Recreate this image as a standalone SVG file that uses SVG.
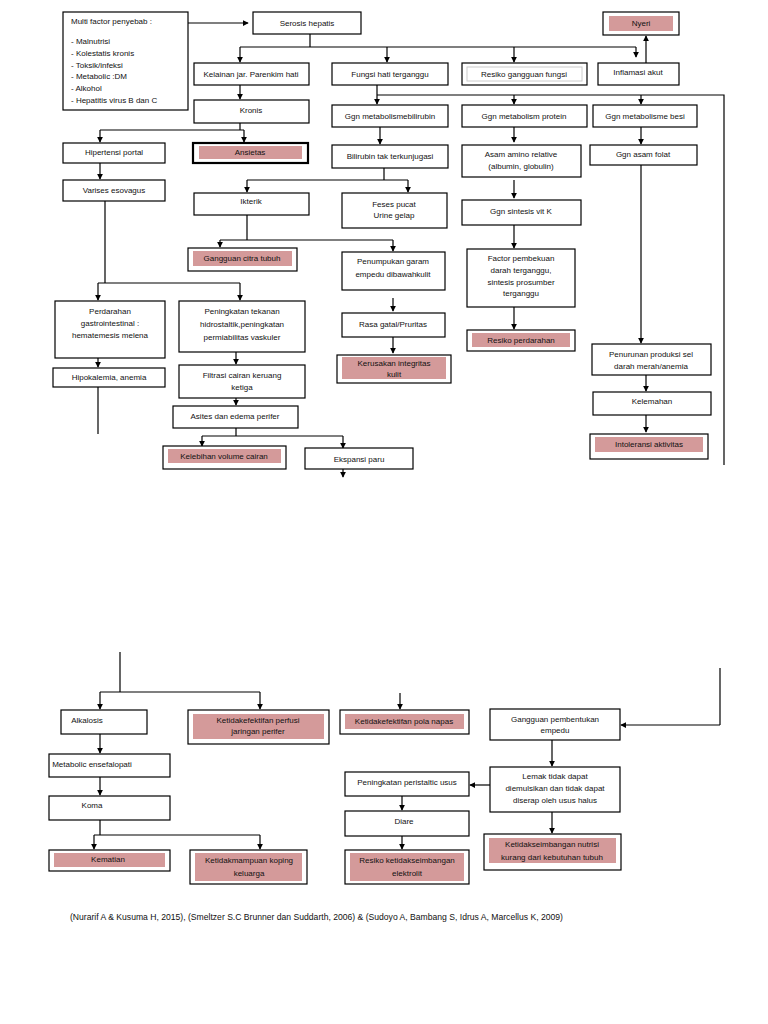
<svg xmlns="http://www.w3.org/2000/svg" width="768" height="1024" viewBox="0 0 768 1024">
<defs>
<marker id="a" viewBox="0 0 8 8" refX="7" refY="4" markerWidth="5" markerHeight="5" orient="auto"><path d="M0,0L8,4L0,8z" fill="#000"/></marker>
</defs>
<style>
rect.b{fill:#fff;stroke:#000;stroke-width:1.2}
rect.p{fill:#d49a9a}
text{font-family:"Liberation Sans",Arial,sans-serif;font-size:8px;fill:#111;text-anchor:middle}
.l{text-anchor:start}
#c path{fill:none;stroke:#000;stroke-width:1.2}
#c path.m{marker-end:url(#a)}
</style>
<rect width="768" height="1024" fill="#fff"/>
<g id="c">
<path class="m" d="M188,23H248"/>
<path d="M310,34V47M240,47H636"/>
<path class="m" d="M240,47V62"/><path class="m" d="M387,47V62"/><path class="m" d="M514,47V62"/><path class="m" d="M636,47V57"/>
<path class="m" d="M646,63V36"/>
<path class="m" d="M240,85V99"/>
<path d="M240,123V130M100,130H244"/>
<path class="m" d="M100,130V142"/><path class="m" d="M244,130V142"/>
<path class="m" d="M100,163V179"/>
<path d="M105,201V283M98,283H240"/>
<path class="m" d="M98,283V300"/><path class="m" d="M240,283V300"/>
<path d="M377,85V95M377,95H724V465"/>
<path class="m" d="M377,95V104"/><path class="m" d="M514,95V104"/><path class="m" d="M641,95V104"/>
<path class="m" d="M380,127V144"/>
<path d="M384,168V180M247,180H408"/>
<path class="m" d="M247,180V192"/><path class="m" d="M408,180V192"/>
<path d="M247,215V240M220,240H393"/>
<path class="m" d="M220,240V247"/><path class="m" d="M393,240V251"/>
<path class="m" d="M393,298V311"/>
<path class="m" d="M393,337V353"/>
<path class="m" d="M98,358V367"/>
<path d="M98,387V434"/>
<path class="m" d="M236,352V364"/>
<path class="m" d="M236,398V405"/>
<path d="M236,428V436M202,436H343"/>
<path class="m" d="M202,436V446"/><path class="m" d="M343,436V448"/>
<path class="m" d="M343,469V477"/>
<path class="m" d="M514,127V142"/>
<path class="m" d="M514,180V198"/>
<path class="m" d="M514,225V248"/>
<path class="m" d="M514,307V329"/>
<path class="m" d="M641,127V144"/>
<path class="m" d="M641,165V343"/>
<path class="m" d="M646,375V391"/>
<path class="m" d="M646,415V432"/>
<path d="M120,652V692M100,692H260"/>
<path class="m" d="M100,692V709"/><path class="m" d="M260,692V709"/>
<path class="m" d="M100,734V753"/>
<path class="m" d="M100,777V795"/>
<path d="M100,820V835M94,835H260"/>
<path class="m" d="M94,835V849"/><path class="m" d="M260,835V849"/>
<path class="m" d="M400,693V709"/>
<path d="M720,668V725"/><path class="m" d="M720,725H621"/>
<path class="m" d="M552,740V766"/>
<path class="m" d="M490,785H470"/>
<path class="m" d="M402,796V810"/>
<path class="m" d="M402,836V849"/>
<path class="m" d="M552,812V833"/>
</g>
<g id="multi"><rect class="b" x="63" y="12" width="125" height="98"/>
<text class="l" x="71" y="24">Multi factor penyebab :</text>
<text class="l" x="71" y="44">-   Malnutrisi</text><text class="l" x="71" y="56">-   Kolestatis kronis</text><text class="l" x="71" y="68">-   Toksik/infeksi</text><text class="l" x="71" y="79">-   Metabolic :DM</text><text class="l" x="71" y="91">-   Alkohol</text><text class="l" x="71" y="103">-   Hepatitis virus B dan C</text></g>
<g id="serosis"><rect class="b" x="253" y="12" width="108" height="22"/><text x="307" y="26">Serosis hepatis</text></g>
<g id="nyeri"><rect class="b" x="603" y="12" width="76" height="23"/><rect class="p" x="609" y="16" width="64" height="15"/><text x="641" y="26">Nyeri</text></g>
<g id="kelainan"><rect class="b" x="194" y="63" width="115" height="22"/><text x="251" y="77">Kelainan jar. Parenkim hati</text></g>
<g id="fungsi"><rect class="b" x="332" y="63" width="116" height="22"/><text x="390" y="77">Fungsi hati terganggu</text></g>
<g id="resiko"><rect class="b" x="462" y="63" width="125" height="22"/><rect x="467" y="67" width="115" height="14" fill="none" stroke="#ccc"/><text x="524" y="77">Resiko gangguan fungsi</text></g>
<g id="inflamasi"><rect class="b" x="598" y="63" width="81" height="22"/><text x="638" y="75">Inflamasi akut</text></g>
<g id="kronis"><rect class="b" x="194" y="100" width="115" height="23"/><text x="251" y="113">Kronis</text></g>
<g id="hipertensi"><rect class="b" x="63" y="143" width="102" height="20"/><text x="114" y="155">Hipertensi portal</text></g>
<g id="ansietas"><rect class="b" x="193" y="143" width="115" height="20" style="stroke-width:2.2"/><rect class="p" x="199" y="146" width="103" height="13"/><text x="250" y="155">Ansietas</text></g>
<g id="varises"><rect class="b" x="63" y="180" width="102" height="21"/><text x="114" y="193">Varises  esovagus</text></g>
<g id="bilirubin"><rect class="b" x="332" y="105" width="116" height="22"/><text x="390" y="119">Ggn metabolismebilirubin</text></g>
<g id="protein"><rect class="b" x="462" y="105" width="125" height="22"/><text x="524" y="119">Ggn metabolism protein</text></g>
<g id="besi"><rect class="b" x="593" y="105" width="104" height="22"/><text x="645" y="119">Ggn metabolisme besi</text></g>
<g id="taktkj"><rect class="b" x="332" y="145" width="116" height="23"/><text x="390" y="159">Bilirubin tak terkunjugasi</text></g>
<g id="asam"><rect class="b" x="462" y="145" width="119" height="32"/><text x="521" y="157">Asam amino relative</text><text x="521" y="169">(albumin, globulin)</text></g>
<g id="folat"><rect class="b" x="590" y="145" width="107" height="20"/><text x="643" y="157">Ggn asam folat</text></g>
<g id="ikterik"><rect class="b" x="194" y="193" width="115" height="22"/><text x="251" y="204">Ikterik</text></g>
<g id="feses"><rect class="b" x="342" y="193" width="105" height="35"/><text x="394" y="207">Feses pucat</text><text x="394" y="218">Urine gelap</text></g>
<g id="vitk"><rect class="b" x="462" y="200" width="119" height="25"/><text x="521" y="214">Ggn sintesis vit K</text></g>
<g id="citra"><rect class="b" x="188" y="248" width="109" height="23"/><rect class="p" x="193" y="251" width="99" height="15"/><text x="242" y="261">Gangguan citra tubuh</text></g>
<g id="penumpukan"><rect class="b" x="342" y="252" width="103" height="38"/><text x="393" y="264">Penumpukan garam</text><text x="393" y="277">empedu dibawahkulit</text></g>
<g id="factor"><rect class="b" x="467" y="249" width="108" height="58"/><text x="521" y="261">Factor pembekuan</text><text x="521" y="273">darah terganggu,</text><text x="521" y="285">sintesis prosumber</text><text x="521" y="296">terganggu</text></g>
<g id="perdarahan"><rect class="b" x="55" y="301" width="110" height="57"/><text x="110" y="314">Perdarahan</text><text x="110" y="326">gastrointestinal :</text><text x="110" y="338">hematemesis melena</text></g>
<g id="peningkatan"><rect class="b" x="179" y="301" width="126" height="51"/><text x="242" y="314">Peningkatan tekanan</text><text x="242" y="327">hidrostaltik,peningkatan</text><text x="242" y="340">permiabilitas vaskuler</text></g>
<g id="gatal"><rect class="b" x="342" y="313" width="103" height="24"/><text x="393" y="327">Rasa gatal/Pruritas</text></g>
<g id="resikoperd"><rect class="b" x="467" y="330" width="108" height="21"/><rect class="p" x="472" y="333" width="98" height="14"/><text x="521" y="343">Resiko perdarahan</text></g>
<g id="penurunan"><rect class="b" x="592" y="344" width="119" height="31"/><text x="651" y="357">Penurunan produksi sel</text><text x="651" y="369">darah merah/anemia</text></g>
<g id="kerusakan"><rect class="b" x="337" y="355" width="114" height="28"/><rect class="p" x="342" y="357" width="104" height="22"/><text x="394" y="366">Kerusakan  integritas</text><text x="394" y="377">kulit</text></g>
<g id="hipokalemia"><rect class="b" x="53" y="368" width="112" height="19"/><text x="109" y="380">Hipokalemia, anemia</text></g>
<g id="filtrasi"><rect class="b" x="179" y="365" width="126" height="33"/><text x="242" y="378">Filtrasi cairan keruang</text><text x="242" y="390">ketiga</text></g>
<g id="kelemahan"><rect class="b" x="593" y="392" width="118" height="23"/><text x="652" y="404">Kelemahan</text></g>
<g id="asites"><rect class="b" x="173" y="406" width="125" height="22"/><text x="235" y="419">Asites dan edema perifer</text></g>
<g id="intoleransi"><rect class="b" x="590" y="434" width="118" height="25"/><rect class="p" x="595" y="437" width="108" height="15"/><text x="649" y="447">Intoleransi aktivitas</text></g>
<g id="kelebihan"><rect class="b" x="163" y="446" width="123" height="23"/><rect class="p" x="168" y="449" width="113" height="14"/><text x="224" y="459">Kelebihan  volume cairan</text></g>
<g id="ekspansi"><rect class="b" x="305" y="448" width="108" height="21"/><text x="359" y="462">Ekspansi paru</text></g>
<g id="alkalosis"><rect class="b" x="61" y="710" width="86" height="24"/><text x="87" y="723">Alkalosis</text></g>
<g id="perfusi"><rect class="b" x="188" y="710" width="141" height="34"/><rect class="p" x="193" y="714" width="131" height="25"/><text x="258" y="723">Ketidakefektifan perfusi</text><text x="258" y="734">jaringan perifer</text></g>
<g id="napas"><rect class="b" x="340" y="710" width="129" height="24"/><rect class="p" x="345" y="714" width="119" height="15"/><text x="404" y="724">Ketidakefektifan pola napas</text></g>
<g id="empedu"><rect class="b" x="490" y="709" width="130" height="31"/><text x="555" y="722">Gangguan pembentukan</text><text x="555" y="733">empedu</text></g>
<g id="ensefalopati"><rect class="b" x="49" y="754" width="121" height="23"/><text x="92" y="767">Metabolic ensefalopati</text></g>
<g id="lemak"><rect class="b" x="490" y="767" width="130" height="45"/><text x="555" y="779">Lemak tidak dapat</text><text x="555" y="791">diemulsikan dan tidak dapat</text><text x="555" y="803">diserap oleh usus halus</text></g>
<g id="peristaltic"><rect class="b" x="345" y="772" width="124" height="24"/><text x="407" y="785">Peningkatan peristaltic usus</text></g>
<g id="koma"><rect class="b" x="49" y="796" width="121" height="24"/><text x="92" y="808">Koma</text></g>
<g id="diare"><rect class="b" x="345" y="811" width="124" height="25"/><text x="404" y="824">Diare</text></g>
<g id="nutrisi"><rect class="b" x="484" y="834" width="137" height="36"/><rect class="p" x="489" y="838" width="127" height="25"/><text x="552" y="847">Ketidakseimbangan nutrisi</text><text x="552" y="860">kurang dari kebutuhan tubuh</text></g>
<g id="kematian"><rect class="b" x="49" y="850" width="121" height="21"/><rect class="p" x="54" y="853" width="111" height="14"/><text x="108" y="862">Kematian</text></g>
<g id="koping"><rect class="b" x="190" y="850" width="117" height="34"/><rect class="p" x="195" y="853" width="107" height="28"/><text x="249" y="863">Ketidakmampuan koping</text><text x="249" y="876">keluarga</text></g>
<g id="elektrolit"><rect class="b" x="345" y="850" width="124" height="34"/><rect class="p" x="350" y="853" width="114" height="28"/><text x="407" y="863">Resiko ketidakseimbangan</text><text x="407" y="876">elektrolit</text></g>
<text class="l" x="70" y="920" style="font-size:8.6px">(Nurarif A &amp; Kusuma H, 2015), (Smeltzer S.C Brunner dan Suddarth, 2006) &amp; (Sudoyo A, Bambang S, Idrus A, Marcellus K, 2009)</text>
</svg>
